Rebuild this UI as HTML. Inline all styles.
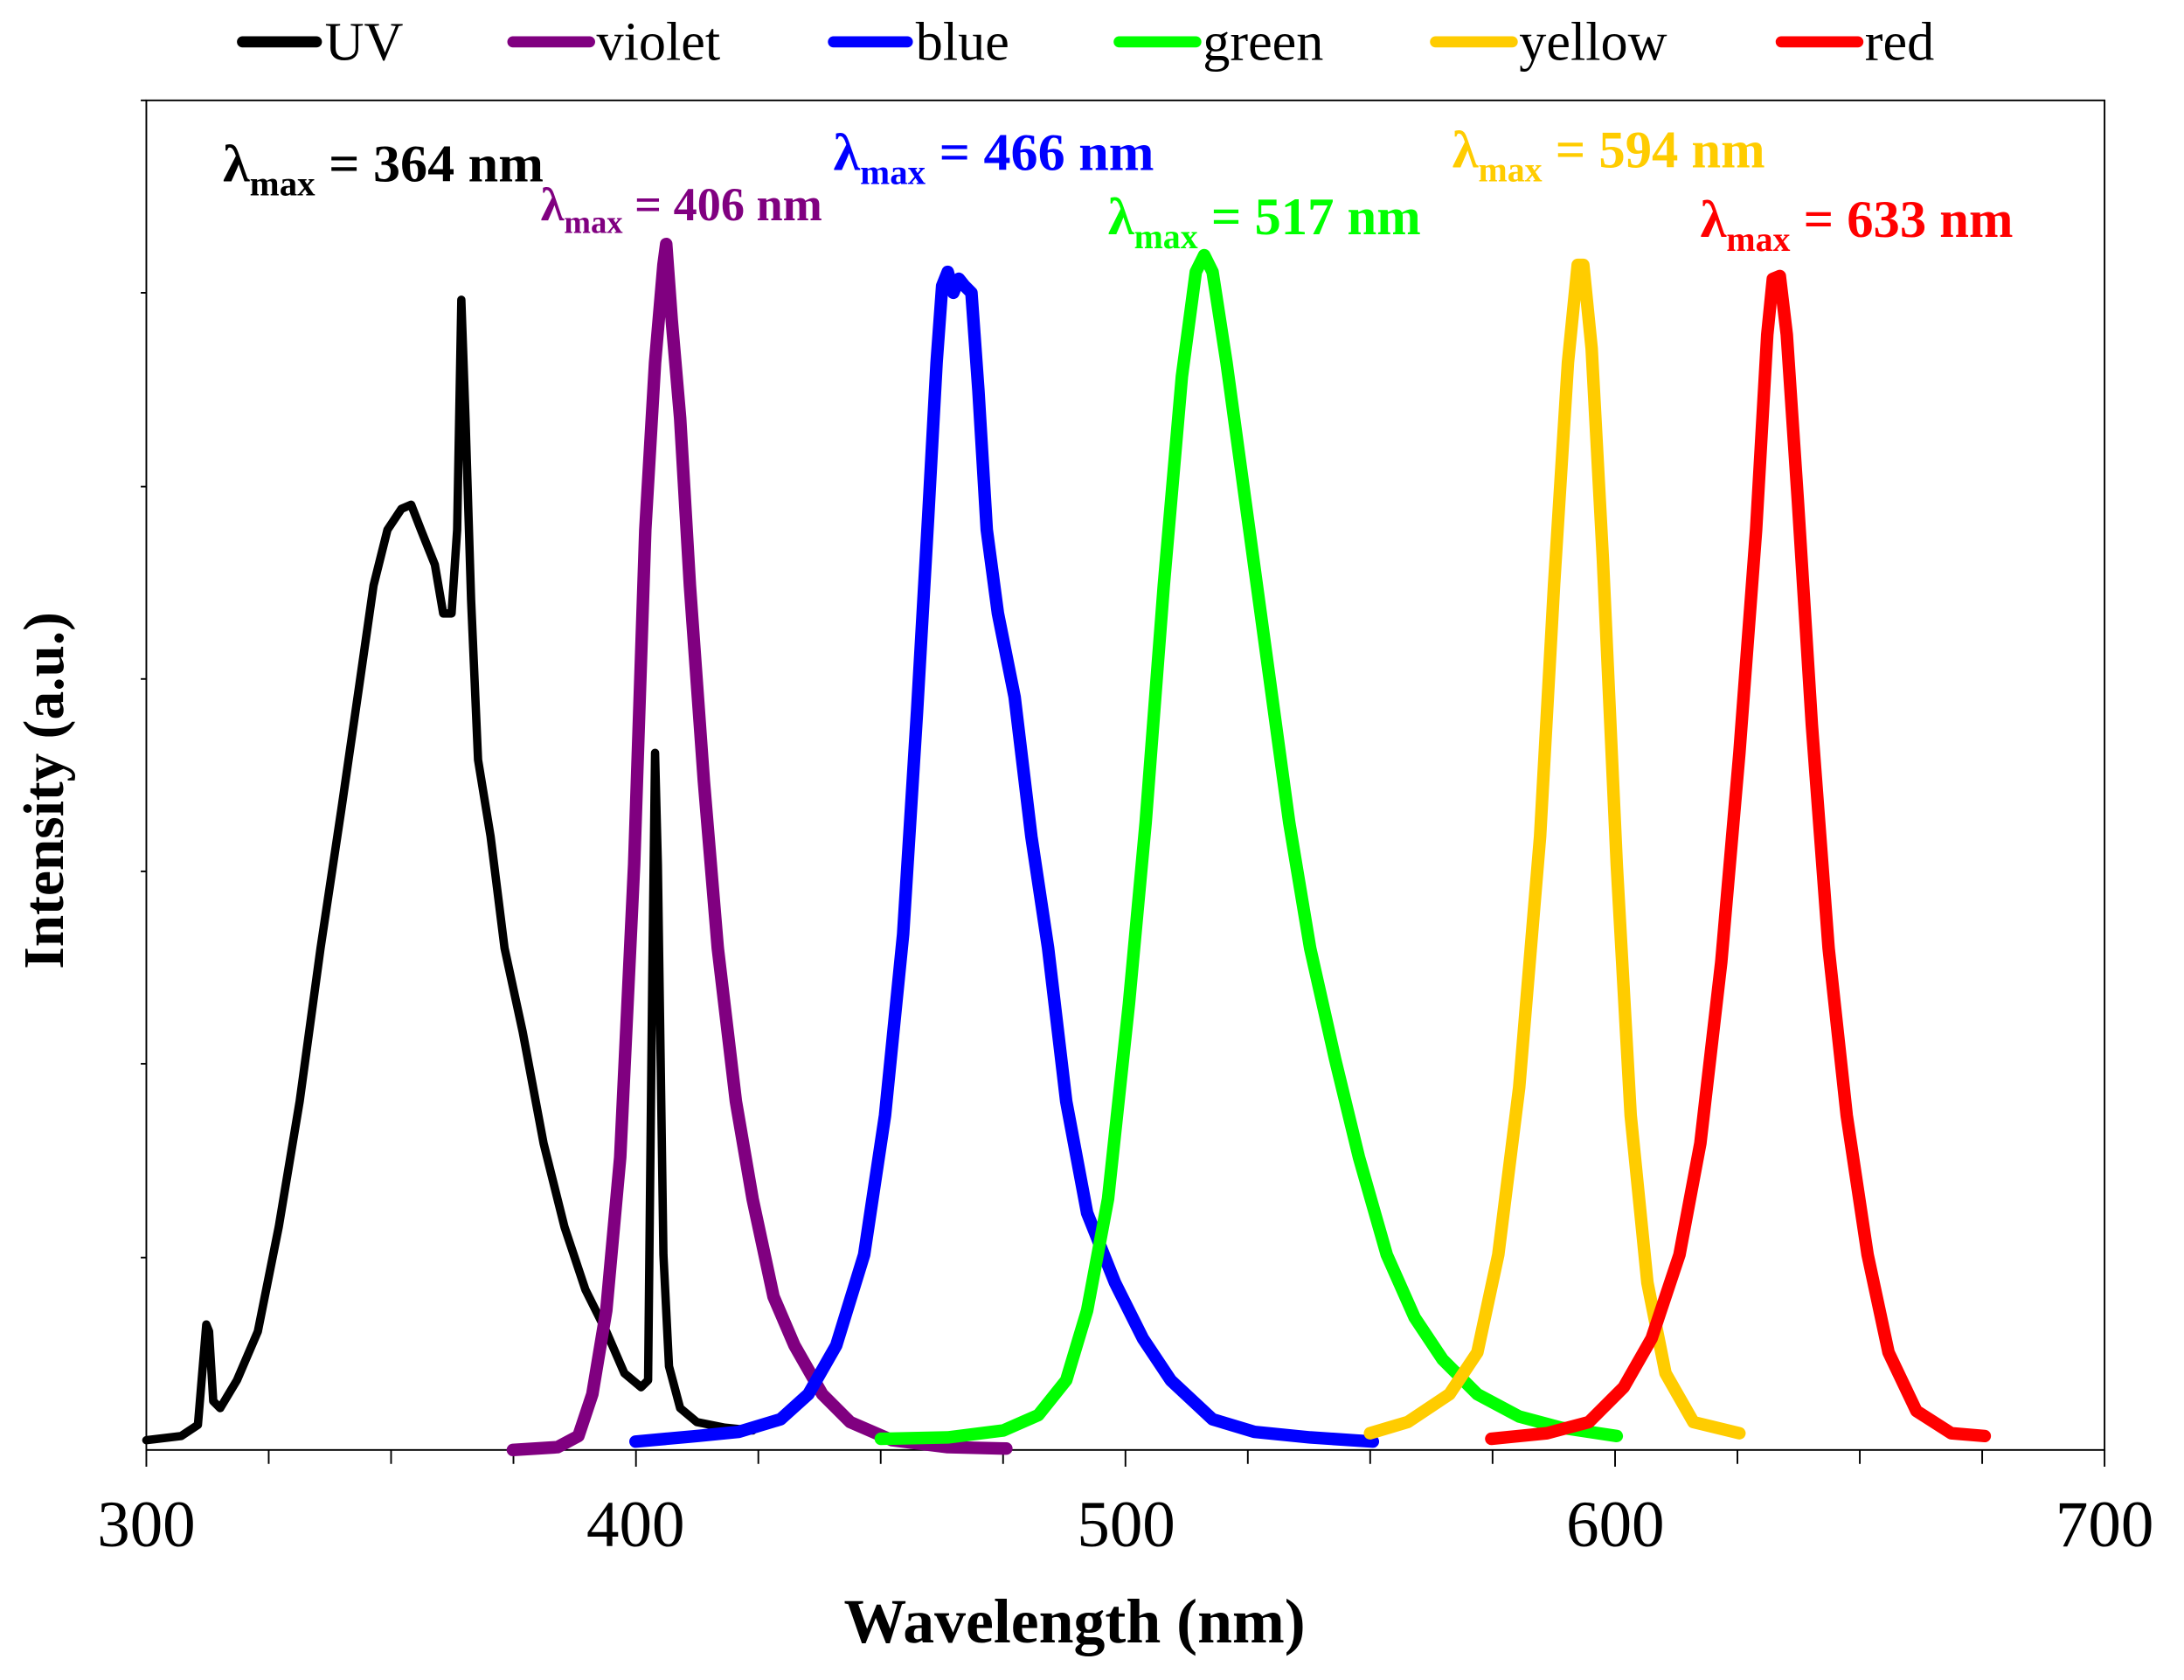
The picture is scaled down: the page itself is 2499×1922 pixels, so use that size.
<!DOCTYPE html>
<html><head><meta charset="utf-8"><style>
html,body{margin:0;padding:0;background:#fff;}
svg{display:block;}
text{font-family:"Liberation Serif",serif;}
</style></head><body>
<svg width="2499" height="1922" viewBox="0 0 1567 1205" preserveAspectRatio="none" xmlns="http://www.w3.org/2000/svg">
<rect width="1567" height="1205" fill="#fff"/>
<rect x="105" y="72" width="1405" height="968" fill="none" stroke="#000" stroke-width="1.2"/>
<g stroke="#000" stroke-width="1.2">
<line x1="105" y1="1040" x2="105" y2="1052"/><line x1="192.8" y1="1040" x2="192.8" y2="1050"/><line x1="280.6" y1="1040" x2="280.6" y2="1050"/><line x1="368.4" y1="1040" x2="368.4" y2="1050"/>
<line x1="456.3" y1="1040" x2="456.3" y2="1052"/><line x1="544.1" y1="1040" x2="544.1" y2="1050"/><line x1="631.9" y1="1040" x2="631.9" y2="1050"/><line x1="719.7" y1="1040" x2="719.7" y2="1050"/>
<line x1="807.5" y1="1040" x2="807.5" y2="1052"/><line x1="895.3" y1="1040" x2="895.3" y2="1050"/><line x1="983.1" y1="1040" x2="983.1" y2="1050"/><line x1="1070.9" y1="1040" x2="1070.9" y2="1050"/>
<line x1="1158.8" y1="1040" x2="1158.8" y2="1052"/><line x1="1246.6" y1="1040" x2="1246.6" y2="1050"/><line x1="1334.4" y1="1040" x2="1334.4" y2="1050"/><line x1="1422.2" y1="1040" x2="1422.2" y2="1050"/>
<line x1="1510" y1="1040" x2="1510" y2="1052"/>
<line x1="101" y1="72" x2="105" y2="72"/><line x1="101" y1="210" x2="105" y2="210"/><line x1="101" y1="349" x2="105" y2="349"/><line x1="101" y1="487" x2="105" y2="487"/><line x1="101" y1="625" x2="105" y2="625"/><line x1="101" y1="763" x2="105" y2="763"/><line x1="101" y1="902" x2="105" y2="902"/>
</g>
<g font-size="47" text-anchor="middle" fill="#000">
<text x="105" y="1109">300</text><text x="456" y="1109">400</text><text x="808" y="1109">500</text><text x="1159" y="1109">600</text><text x="1510" y="1109">700</text>
</g>
<text x="771" y="1178" font-size="45" font-weight="bold" text-anchor="middle">Wavelength (nm)</text>
<text transform="translate(45,567) rotate(-90)" font-size="41" font-weight="bold" text-anchor="middle">Intensity (a.u.)</text>
<g stroke-width="8" stroke-linecap="round">
<line x1="174" y1="30" x2="227" y2="30" stroke="#000"/>
<line x1="368" y1="30" x2="423" y2="30" stroke="#800080"/>
<line x1="598" y1="30" x2="651" y2="30" stroke="#0000ff"/>
<line x1="803" y1="30" x2="858" y2="30" stroke="#00ff00"/>
<line x1="1030" y1="30" x2="1085" y2="30" stroke="#ffcc00"/>
<line x1="1278" y1="30" x2="1333" y2="30" stroke="#ff0000"/>
</g>
<g font-size="39" fill="#000">
<text x="233" y="43">UV</text><text x="428" y="43">violet</text><text x="657" y="43">blue</text><text x="863" y="43">green</text><text x="1090" y="43">yellow</text><text x="1338" y="43">red</text>
</g>
<g font-weight="bold">
<text x="160" y="130" font-size="38" fill="#000" textLength="230" lengthAdjust="spacingAndGlyphs">λ<tspan font-size="25" dy="10">max</tspan><tspan dy="-10"> = 364 nm</tspan></text>
<text x="388" y="158" font-size="34" fill="#800080">λ<tspan font-size="23" dy="9">max</tspan><tspan dy="-9"> = 406 nm</tspan></text>
<text x="598" y="122" font-size="38" fill="#0000ff" textLength="230" lengthAdjust="spacingAndGlyphs">λ<tspan font-size="25" dy="10">max</tspan><tspan dy="-10"> = 466 nm</tspan></text>
<text x="795" y="168" font-size="38" fill="#00ff00">λ<tspan font-size="25" dy="10">max</tspan><tspan dy="-10"> = 517 nm</tspan></text>
<text x="1042" y="120" font-size="38" fill="#ffcc00">λ<tspan font-size="25" dy="10">max</tspan><tspan dy="-10"> = 594 nm</tspan></text>
<text x="1220" y="170" font-size="38" fill="#ff0000">λ<tspan font-size="25" dy="10">max</tspan><tspan dy="-10"> = 633 nm</tspan></text>
</g>
<g fill="none" stroke-linejoin="round" stroke-linecap="round">
<polyline stroke="#000" stroke-width="6" points="105,1033 130,1030 142,1022 148,950 150,955 153,1005 158,1010 170,990 185,955 200,880 215,790 230,680 245,580 258,490 268,420 278,380 288,365 295,362 302,380 312,405 318,440 324,440 328,380 331,215 334,300 338,430 343,545 352,600 362,680 375,740 390,820 405,880 420,925 435,955 448,985 460,995 465,990 468,700 470,540 472,620 476,900 480,980 488,1010 500,1020 520,1024 540,1026"/>
<polyline stroke="#800080" stroke-width="9" points="368,1040 400,1038 415,1030 425,1000 435,940 445,830 455,620 463,380 470,260 476,190 478,175 482,230 488,300 495,420 505,560 515,680 528,790 540,860 555,930 570,965 590,1000 610,1020 640,1033 680,1038 722,1039"/>
<polyline stroke="#0000ff" stroke-width="9" points="456,1034 500,1030 530,1027 560,1018 580,1000 600,965 620,900 635,800 648,670 658,510 666,370 672,260 676,205 680,195 684,210 688,200 692,205 697,210 702,280 708,380 716,440 728,500 740,600 752,680 765,790 780,870 800,920 820,960 840,990 870,1018 900,1027 940,1031 985,1034"/>
<polyline stroke="#00ff00" stroke-width="9" points="632,1032 680,1031 720,1026 745,1015 765,990 780,940 795,860 810,720 822,590 835,420 848,270 858,195 864,183 870,195 880,260 895,370 910,480 925,590 940,680 958,760 975,830 995,900 1015,945 1035,975 1060,1000 1090,1016 1120,1024 1160,1030"/>
<polyline stroke="#ffcc00" stroke-width="9" points="983,1028 1010,1020 1040,1000 1060,970 1075,900 1090,780 1105,600 1115,420 1125,260 1132,190 1136,190 1142,250 1150,400 1160,620 1170,800 1182,920 1195,985 1215,1020 1248,1028"/>
<polyline stroke="#ff0000" stroke-width="9" points="1070,1032 1110,1028 1140,1020 1165,995 1185,960 1205,900 1220,820 1235,690 1248,540 1260,380 1268,240 1272,200 1277,198 1282,240 1290,360 1300,520 1312,680 1325,800 1340,900 1355,970 1375,1012 1400,1028 1424,1030"/>
</g>
</svg>
</body></html>
